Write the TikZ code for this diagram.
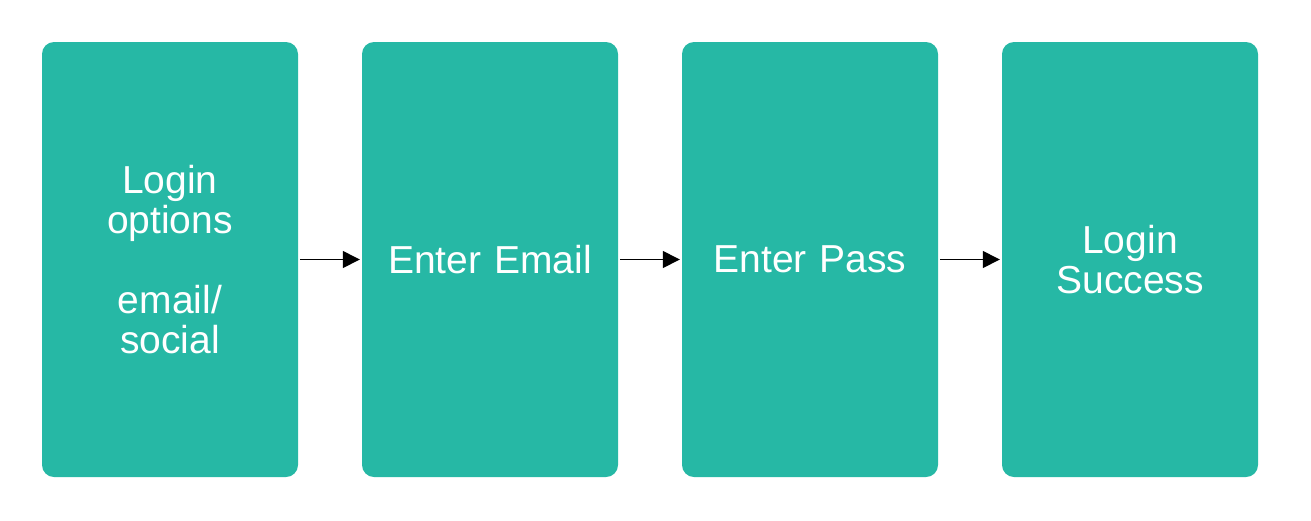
\documentclass[tikz,border=0pt]{standalone}
\usepackage{fontspec}
\setmainfont{Liberation Sans}
\usetikzlibrary{arrows.meta}
\definecolor{teal1}{HTML}{26B8A5}
\begin{document}
\begin{tikzpicture}[x=1pt,y=-1pt,
  stepbox/.style={fill=teal1, rounded corners=12pt, minimum width=256pt, minimum height=435pt, inner sep=0pt,
    text=white, font=\fontsize{39}{40}\selectfont, align=center, text width=240pt},
  conn/.style={line width=1.4pt, -{Triangle[length=17pt,width=17pt]}, shorten <=2pt, shorten >=2pt}]
\useasboundingbox (0,0) rectangle (1311,520);
\node[stepbox] (a) at (170,259.5) {Login\\options\\[40pt]email/\\social};
\node[stepbox] (b) at (490,259.5) {Enter Email};
\node[stepbox] (c) at (810,259.5) {Enter Pass};
\node[stepbox] (d) at (1130,259.5) {Login\\Success};
\draw[conn] (a) -- (b);
\draw[conn] (b) -- (c);
\draw[conn] (c) -- (d);
\end{tikzpicture}
\end{document}
